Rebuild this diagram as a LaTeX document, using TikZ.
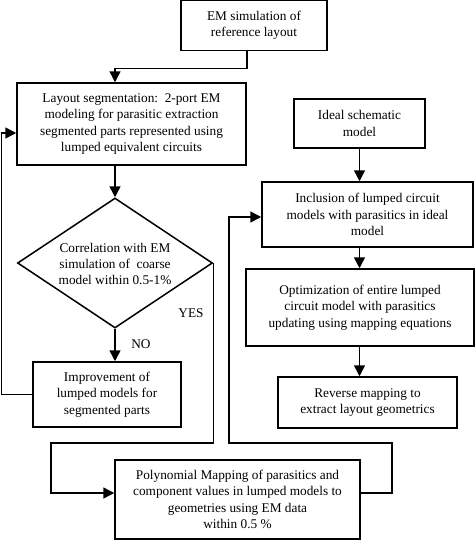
\documentclass[tikz,border=0pt]{standalone}
\usepackage{fontspec}
\setmainfont{Liberation Serif}
\usetikzlibrary{shapes.geometric,arrows.meta,calc}
\begin{document}
\begin{tikzpicture}[x=1pt,y=-1pt,
  box/.style={draw,line width=1.5pt,rectangle,inner sep=0pt,align=center,
    font=\fontsize{13.3}{16.3}\selectfont},
  lbl/.style={font=\fontsize{13.3}{16}\selectfont},
  arr/.style={line width=1.5pt,-{Triangle[length=11pt,width=11pt]}},
  ln/.style={line width=1.5pt}]
\useasboundingbox (0,0) rectangle (474,543);
\node[box,minimum width=146pt,minimum height=50pt] (box1) at (254,25.5) {EM simulation of\\reference layout};
\node[box,minimum width=229pt,minimum height=82pt] (box2) at (131.5,124) {Layout segmentation:\ \ 2-port EM\\modeling for parasitic extraction\\segmented parts represented using\\lumped equivalent circuits};
\node[box,minimum width=131pt,minimum height=49pt] (ideal) at (359.5,123.5) {Ideal schematic\\model};
\node[box,minimum width=211pt,minimum height=65pt] (incl) at (367.5,214.5) {Inclusion of lumped circuit\\models with parasitics in ideal\\model};
\node[box,minimum width=228pt,minimum height=77pt] (opt) at (360,307.5) {Optimization of entire lumped\\circuit model with parasitics\\updating using mapping equations};
\node[box,minimum width=179pt,minimum height=51pt] (rev) at (367.5,402.5) {Reverse mapping to\\extract layout geometrics};
\node[draw,line width=1.5pt,diamond,minimum width=195pt,minimum height=130pt,inner sep=0pt] (dec) at (115,263) {};
\node[align=center,font=\fontsize{13.3}{16.3}\selectfont] (dectext) at (115,264) {Correlation with EM\\simulation of\ \ coarse\\model within 0.5-1\%};
\node[box,minimum width=148pt,minimum height=65pt] (imp) at (107,394.5) {Improvement of\\lumped models for\\segmented parts};
\node[box,minimum width=245pt,minimum height=79pt] (poly) at (237.5,499.5) {Polynomial Mapping of parasitics and\\component values in lumped models to\\geometries using EM data\\within 0.5 \%};
\node[lbl] (yes) at (191,313) {YES};
\node[lbl] (no) at (141,344) {NO};
\coordinate (y1) at (51,443);
\coordinate (r1) at (392,443);
\coordinate (r2) at (229,443);
\draw[arr] ([xshift=-7pt]box1.south) -- ++(0,17) -| (box2.north -| dec.north);
\draw[arr] (box2.south -| dec.north) -- (dec.north);
\draw[arr] (dec.south) -- (dec.south |- imp.north);
\draw[arr] (imp.west) -- ++(-31,0) |- ([yshift=-9pt]box2.west);
\draw[arr] (dec.east) |- (y1) |- ([yshift=6.5pt]poly.west);
\draw[arr] ([yshift=6.5pt]poly.east) -| (r1) -- (r2) |- ([yshift=-2.5pt]incl.west);
\draw[arr] (ideal.south) -- (ideal.south |- incl.north);
\draw[arr] (incl.south -| ideal.south) -- (opt.north -| ideal.south);
\draw[arr] (opt.south -| ideal.south) -- (rev.north -| ideal.south);
\end{tikzpicture}
\end{document}
